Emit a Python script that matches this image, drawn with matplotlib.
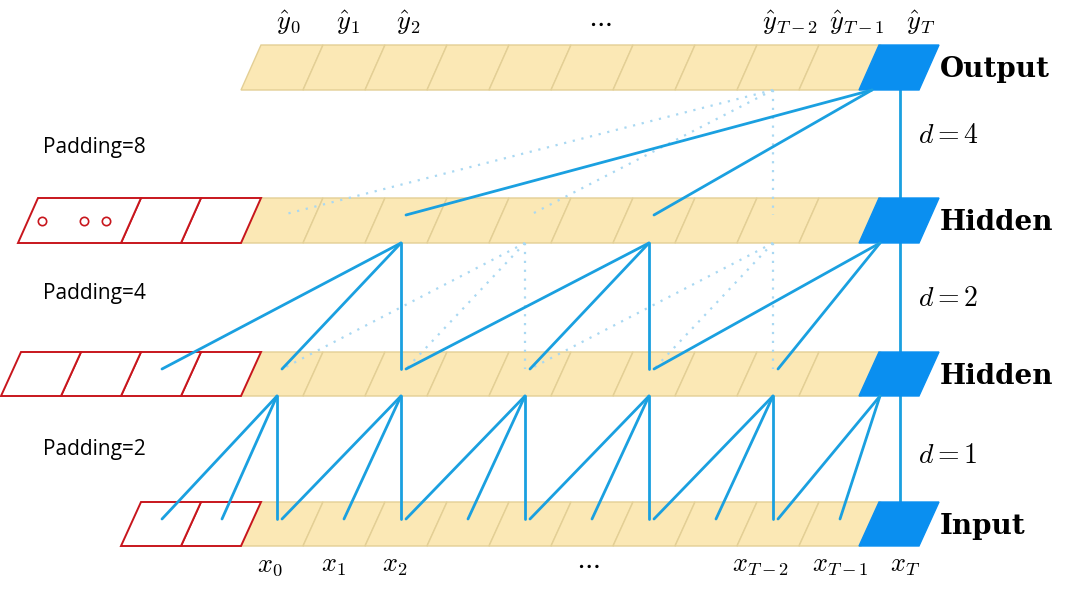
import matplotlib
matplotlib.use("Agg")
import matplotlib.pyplot as plt
from matplotlib.patches import Polygon
plt.rcParams["mathtext.fontset"] = "cm"

# rows: name, top y, bottom y
row_names = ["Output", "Hidden", "Hidden", "Input"]
row_top = [45, 198, 352, 502]
row_bot = [90, 243, 396, 546]
n_cells = 11
pad_cells = [0, 2, 4, 2]   # red padding cells drawn per row
dil_labels = ["$d = 4$", "$d = 2$", "$d = 1$"]
top_labels = [r"$\hat{y}_0$", r"$\hat{y}_1$", r"$\hat{y}_2$", r"$\cdots$", r"$\hat{y}_{T-2}$", r"$\hat{y}_{T-1}$", r"$\hat{y}_T$"]
top_label_x = [288, 348, 408, 600, 790, 857, 921]
bot_labels = [r"$x_0$", r"$x_1$", r"$x_2$", r"$\cdots$", r"$x_{T-2}$", r"$x_{T-1}$", r"$x_T$"]
bot_label_x = [270, 333, 395, 588, 760, 840, 905]
pad_texts = ["Padding=8", "Padding=4", "Padding=2"]
pad_y = [147, 293, 450]
# connections (upper row index, nodes, dilation)
solid_conn = [(0, [10], 4), (1, [2, 6, 10], 2), (2, [0, 2, 4, 6, 8, 10], 1)]
dotted_conn = [(0, [8], 4), (1, [4, 8], 2)]

W, SL, X0 = 62, 20, 241
fig = plt.figure(figsize=(10.87, 5.99), dpi=100)
ax = fig.add_axes([0, 0, 1, 1])
ax.set_xlim(0, 1087); ax.set_ylim(599, 0); ax.axis("off")

def bl(i):
    return X0 + W * i if i >= 0 else X0 + 60 * i

def cell(i, r, fc, ec, lw=1.0, z=1):
    t, b = row_top[r], row_bot[r]
    x = bl(i)
    w = W if i >= 0 else 60
    ax.add_patch(Polygon([(x, b), (x + w, b), (x + w + SL, t), (x + SL, t)], closed=True,
                         fc=fc, ec=ec, lw=lw, zorder=z))

for r in range(4):
    for i in range(n_cells - 1):
        cell(i, r, "#fbe8b5", "#e3cf95", 1.0)
    t, b = row_top[r], row_bot[r]
    x = bl(10) - 2
    ax.add_patch(Polygon([(x, b), (x + 60, b), (x + 80, t), (x + 20, t)], fc="#0a8ff0", ec="#0a8ff0", zorder=2))
    for k in range(1, pad_cells[r] + 1):
        cell(-k, r, "white", "#c8161d", 1.4, 2)
    ax.text(940, (t + b) / 2 + 2, row_names[r], fontsize=20, fontweight="bold", family="DejaVu Serif",
            va="center", ha="left")

t, b = row_top[1], row_bot[1]
ax.add_patch(Polygon([(18, b), (bl(-2), b), (bl(-2) + SL, t), (18 + SL, t)], fc="white", ec="#c8161d", lw=1.4, zorder=2))
for cx in [42, 84, 106]:
    ax.plot(cx, (t + b) / 2, "o", mfc="white", mec="#c8161d", ms=6, mew=1.2, zorder=3)

def up_pt(i, r):
    return bl(i) + 36, row_bot[r]
def low_pt(i, r):
    return bl(i) + 41, row_top[r] + 17

for conns, style in [(dotted_conn, dict(color="#a9d8f2", lw=1.6, ls=(0, (1, 3)))),
                     (solid_conn, dict(color="#1aa0e0", lw=2.0, ls="-"))]:
    for r, nodes, d in conns:
        for j in nodes:
            ux, uy = up_pt(j, r)
            if j == 10:
                ux = 872 if r == 0 else 880
            for k in (j - 2 * d, j - d, j):
                if j == 10 and k == 10:
                    continue
                lx, ly = low_pt(k, r + 1)
                if k == j:
                    lx = ux
                ax.plot([ux, lx], [uy, ly], zorder=4, solid_capstyle="round", **style)

ax.plot([900, 900], [row_bot[0], row_top[3]], color="#1aa0e0", lw=2, zorder=1)

for k, s in enumerate(dil_labels):
    ax.text(918, [135, 298, 455][k], s, fontsize=20, va="center", ha="left")
for s, x in zip(top_labels, top_label_x):
    ax.text(x, 23, s, fontsize=19, ha="center", va="center")
for s, x in zip(bot_labels, bot_label_x):
    ax.text(x, 565, s, fontsize=19, ha="center", va="center")
for s, y in zip(pad_texts, pad_y):
    ax.text(43, y, s, fontsize=15, family="Open Sans", va="center", ha="left")

fig.savefig("out.png", dpi=100)
